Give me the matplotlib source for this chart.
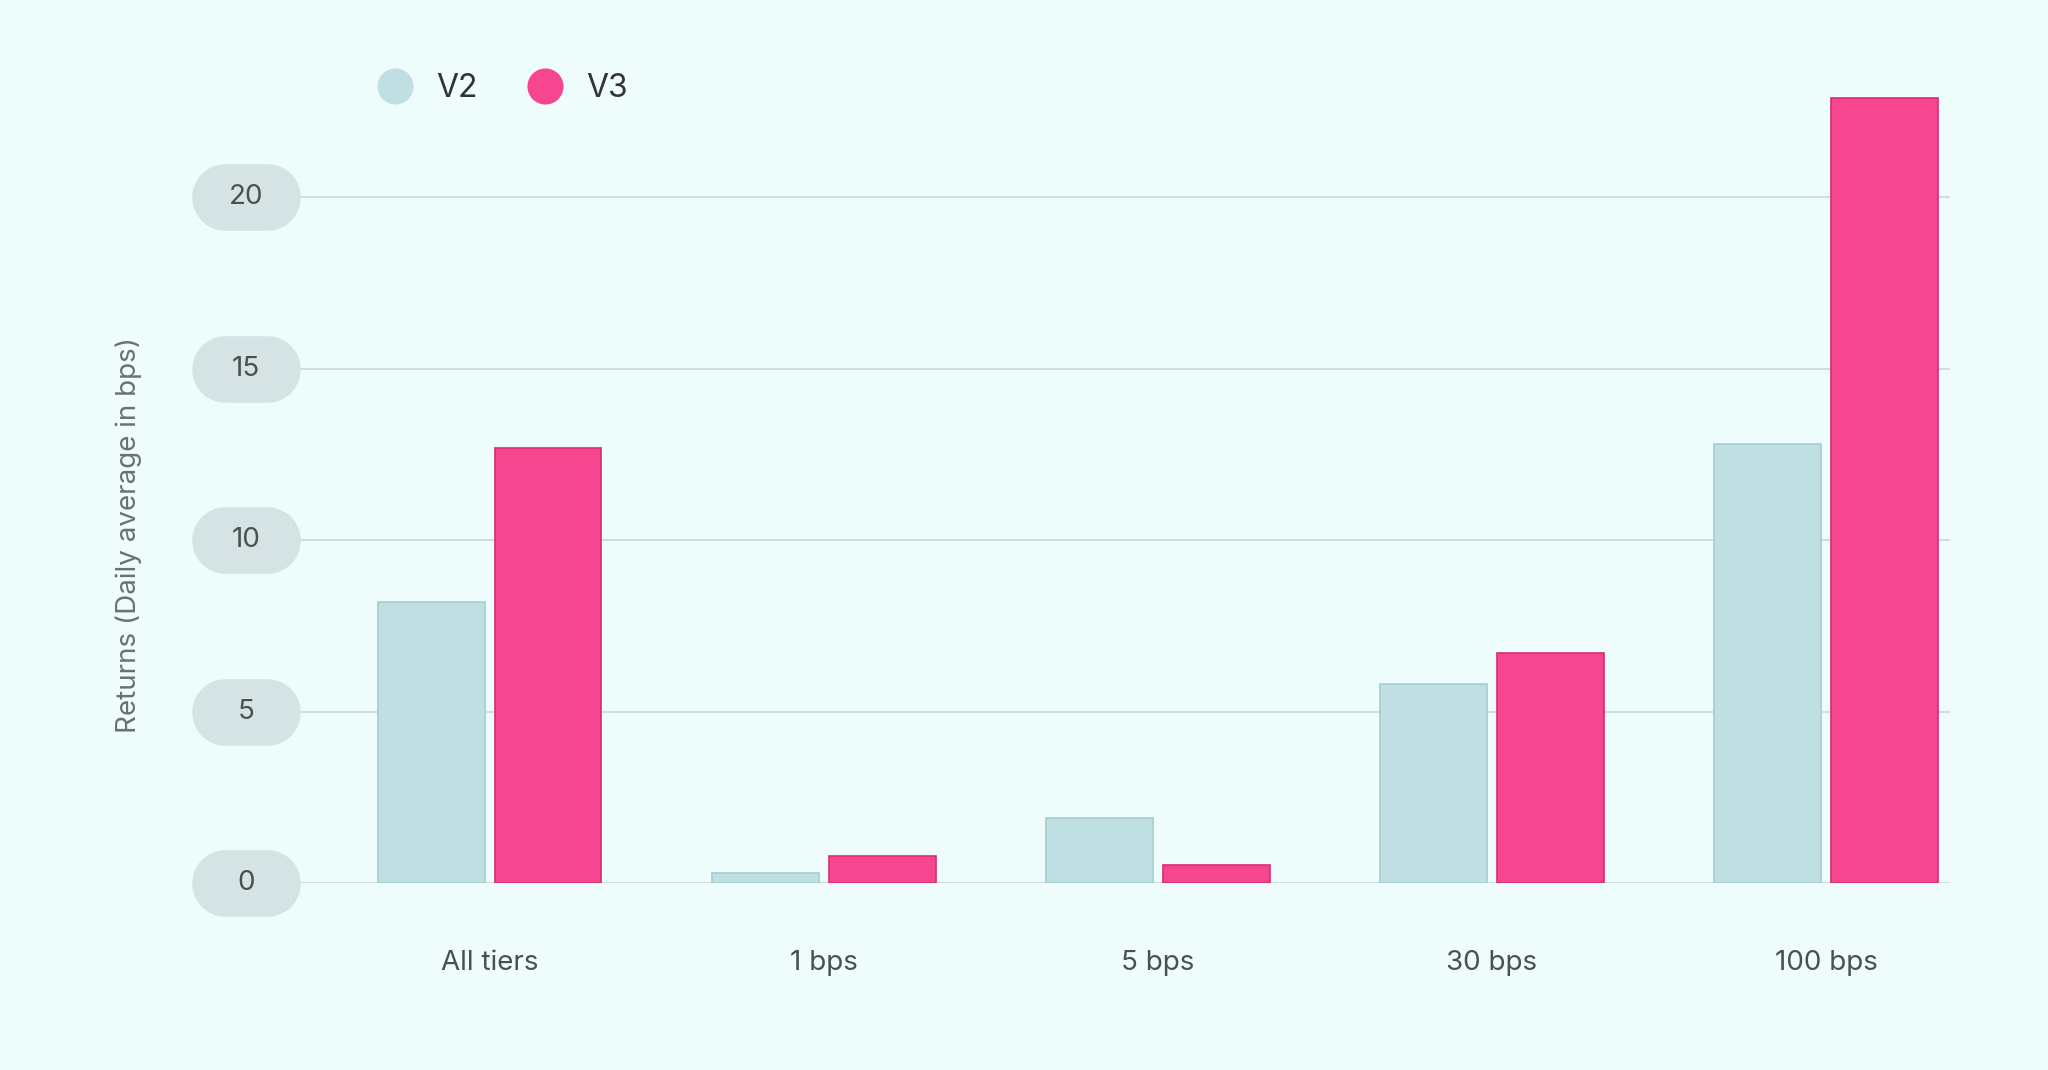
import matplotlib.pyplot as plt
import numpy as np
from matplotlib.lines import Line2D

plt.rcParams['font.family'] = ['Inter', 'DejaVu Sans']

categories = ['All tiers', '1 bps', '5 bps', '30 bps', '100 bps']
v2 = [8.2, 0.3, 1.9, 5.8, 12.8]
v3 = [12.7, 0.8, 0.55, 6.7, 22.9]
yticks = [0, 5, 10, 15, 20]

BG = '#effcfc'
V2_FACE, V2_EDGE = '#bfdfe3', '#a6cdd2'
V3_FACE, V3_EDGE = '#f5468f', '#dc2a72'
TXT = '#4a4f52'

fig = plt.figure(figsize=(20.48, 10.7), dpi=100, facecolor=BG)
ax = fig.add_axes([0.1467, 0.1744, 0.8053, 0.7536])
ax.set_facecolor(BG)

x = np.arange(len(categories))
w = 0.32
ax.bar(x - 0.175, v2, w, color=V2_FACE, edgecolor=V2_EDGE, linewidth=1.2, zorder=3)
ax.bar(x + 0.175, v3, w, color=V3_FACE, edgecolor=V3_EDGE, linewidth=1.2, zorder=3)

ax.set_xlim(-0.566, 4.37)
ax.set_ylim(0, 23.5)
for y in yticks:
    ax.axhline(y, color='#c8d7d9', linewidth=1.2, zorder=1)

for s in ax.spines.values():
    s.set_visible(False)
ax.set_yticks([])
ax.set_xticks(x)
ax.set_xticklabels(categories, fontsize=20, color=TXT)
ax.tick_params(axis='x', length=0, pad=48)

# pill-shaped y tick labels: thick line with round caps behind the text
ytr = ax.get_yaxis_transform()
for y in yticks:
    ax.plot([-0.0455, -0.0205], [y, y], transform=ytr, color='#d6e3e5', linewidth=48,
            solid_capstyle='round', clip_on=False, zorder=2)
    ax.text(-0.033, y, str(y), transform=ytr, ha='center', va='center',
            fontsize=20, color=TXT, clip_on=False, zorder=4)

fig.text(0.063, 0.5, 'Returns (Daily average in bps)', rotation=90, ha='center', va='center',
         fontsize=20, color='#6a7074')

handles = [Line2D([], [], marker='o', linestyle='none', markersize=26, markerfacecolor=V2_FACE,
                  markeredgecolor='none', label='V2'),
           Line2D([], [], marker='o', linestyle='none', markersize=26, markerfacecolor=V3_FACE,
                  markeredgecolor='none', label='V3')]
leg = fig.legend(handles=handles, loc='center left', bbox_to_anchor=(0.163, 0.917), ncol=2,
                 frameon=False, fontsize=23, handletextpad=0.3, columnspacing=1.1)
for t in leg.get_texts():
    t.set_color('#333333')

fig.savefig('out.png', dpi=100, facecolor=BG)
